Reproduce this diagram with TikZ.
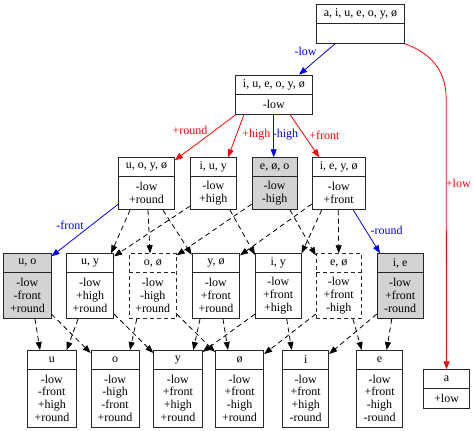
\documentclass[tikz,border=0pt]{standalone}
\usepackage{fontspec}
\setmainfont{Liberation Serif}
\usetikzlibrary{arrows.meta}
\definecolor{boxgrey}{RGB}{211,211,211}
\tikzset{
  recbox/.style={draw=black!85, line width=0.8pt, inner sep=0pt, fill=white},
  greyrec/.style={fill=boxgrey},
  dashrec/.style={dash pattern=on 4pt off 3pt},
  plainrec/.style={},
  rtext/.style={inner sep=0pt, align=center, font=\fontsize{12}{12.7}\selectfont},
  edge/.style={line width=0.8pt, -{Triangle[length=8pt,width=6pt]}},
  dedge/.style={edge, black, dash pattern=on 5pt off 3.5pt},
  redge/.style={edge, red},
  bedge/.style={edge, blue},
  rlab/.style={text=red, inner sep=0pt, font=\fontsize{12}{12.7}\selectfont},
  blab/.style={text=blue, inner sep=0pt, font=\fontsize{12}{12.7}\selectfont}
}
% name, x, y, width, height, header, body, style
\newcommand\recnode[8]{%
  \node[recbox,#8,minimum width=#4pt,minimum height=#5pt,anchor=north west] (#1) at (#2,#3) {};
  \draw[recbox,#8] ([yshift=-19.5pt]#1.north west) -- ([yshift=-19.5pt]#1.north east);
  \node[rtext] (#1h) at ([yshift=-9.75pt]#1.north) {#6};
  \node[rtext] (#1b) at ([yshift=-19.5pt-(#5pt-19.5pt)/2]#1.north) {#7};
}
\begin{document}
\begin{tikzpicture}[x=1pt,y=-1pt]
\useasboundingbox (0,0) rectangle (474,431);
% row 0/1
\recnode{root}{316}{4}{88}{39}{a, i, u, e, o, y, ø}{}{plainrec}
\recnode{nlow}{235}{74.7}{77}{39}{i, u, e, o, y, ø}{-low}{plainrec}
% row 2
\recnode{uoyo}{118.3}{157.3}{55.7}{52}{u, o, y, ø}{-low\\+round}{plainrec}
\recnode{iuy}{190}{157.3}{45.7}{52}{i, u, y}{-low\\+high}{plainrec}
\recnode{eoo}{251.7}{157.3}{45}{52}{e, ø, o}{-low\\-high}{greyrec}
\recnode{ieyo}{311.7}{157.3}{53.3}{52}{i, e, y, ø}{-low\\+front}{plainrec}
% row 3
\recnode{uo}{3.3}{253.3}{47.4}{65}{u, o}{-low\\-front\\+round}{greyrec}
\recnode{uy}{66}{253.3}{47.3}{65}{u, y}{-low\\+high\\+round}{plainrec}
\recnode{oo}{128.7}{253.3}{47.3}{65}{o, ø}{-low\\-high\\+round}{dashrec}
\recnode{yo}{191.7}{253.3}{47.6}{65}{y, ø}{-low\\+front\\+round}{plainrec}
\recnode{iy}{255}{253.3}{45.7}{65}{i, y}{-low\\+front\\+high}{plainrec}
\recnode{eo}{315.7}{253.3}{45.3}{65}{e, ø}{-low\\+front\\-high}{dashrec}
\recnode{ie}{376.7}{253.3}{46}{65}{i, e}{-low\\+front\\-round}{greyrec}
% row 4
\recnode{nu}{27.3}{350}{48.4}{76.7}{u}{-low\\-front\\+high\\+round}{plainrec}
\recnode{no}{90.7}{350}{48}{76.7}{o}{-low\\-high\\-front\\+round}{plainrec}
\recnode{ny}{153.3}{350}{48.4}{76.7}{y}{-low\\+front\\+high\\+round}{plainrec}
\recnode{noe}{215}{350}{48.4}{76.7}{ø}{-low\\+front\\-high\\+round}{plainrec}
\recnode{ni}{282.3}{350}{46}{76.7}{i}{-low\\+front\\+high\\-round}{plainrec}
\recnode{ne}{356}{350}{46.3}{76.7}{e}{-low\\+front\\-high\\-round}{plainrec}
\recnode{na}{423.3}{369.3}{45.7}{39}{a}{+low}{plainrec}

% coloured edges
\draw[bedge] ([xshift=19pt]root.south west) -- ([xshift=64pt]nlow.north west);
\draw[redge] (root.south east) .. controls (428,52) and (446,68) .. (446.15,98) -- (na.north);
\draw[redge] ([xshift=1pt]nlow.south west) -- ([yshift=-3pt]uoyo.north east);
\draw[redge] ([xshift=9pt]nlow.south west) -- ([xshift=38pt]iuy.north west);
\draw[bedge] ([xshift=38.7pt]nlow.south west) -- ([xshift=22pt]eoo.north west);
\draw[redge] ([xshift=55pt]nlow.south west) -- ([xshift=7.5pt]ieyo.north west);
\draw[bedge] ([yshift=6pt]uoyo.south west) -- ([yshift=-3pt]uo.north east);
\draw[bedge] ([xshift=41.6pt]ieyo.south west) -- ([xshift=3.3pt]ie.north west);

% labels
\node[blab] (llow) at (305.5,51.7) {-low};
\node[rlab] (lround) at (190,130) {+round};
\node[rlab] (lhigh) at (256.4,135) {+high};
\node[blab] (lmhigh) at (285.5,135) {-high};
\node[rlab] (lfront) at (324.5,135) {+front};
\node[rlab] (lplow) at (458.3,183.3) {+low};
\node[blab] (lmfront) at (70,225) {-front};
\node[blab] (lmround) at (386.7,230) {-round};

% dashed edges row 2 -> row 3
\draw[dedge] ([xshift=11.7pt]uoyo.south west) -- ([xshift=-3pt]uy.north east);
\draw[dedge] ([xshift=29.7pt]uoyo.south west) -- ([xshift=21.3pt]oo.north west);
\draw[dedge] ([xshift=44.7pt]uoyo.south west) -- ([yshift=-1.5pt]yo.north west);
\draw[dedge] ([yshift=4pt]iuy.south west) -- ([yshift=-3pt]uy.north east);
\draw[dedge] ([xshift=40pt]iuy.south west) -- ([yshift=-1.5pt]iy.north west);
\draw[dedge] ([yshift=6pt]eoo.south west) -- ([yshift=-2pt]oo.north east);
\draw[dedge] ([xshift=38.3pt]eoo.south west) -- ([yshift=-2pt]eo.north west);
\draw[dedge] ([yshift=6pt]ieyo.south west) -- ([yshift=-2pt]yo.north east);
\draw[dedge] ([xshift=10pt]ieyo.south west) -- (iy.north east);
\draw[dedge] ([xshift=26.6pt]ieyo.south west) -- (eo.north);

% dashed edges row 3 -> row 4
\draw[dedge] ([xshift=31.7pt]uo.south west) -- ([xshift=12.7pt]nu.north west);
\draw[dedge] ([yshift=5pt]uo.south east) -- ([yshift=-3pt]no.north west);
\draw[dedge] ([xshift=12pt]uy.south west) -- ([xshift=39.4pt]nu.north west);
\draw[dedge] ([yshift=5pt]uy.south east) -- ([yshift=-3pt]ny.north west);
\draw[dedge] ([xshift=8pt]oo.south west) -- ([xshift=39.3pt]no.north west);
\draw[dedge] ([yshift=5pt]oo.south east) -- ([yshift=-2pt]noe.north west);
\draw[dedge] ([xshift=8.3pt]yo.south west) -- ([xshift=40pt]ny.north west);
\draw[dedge] ([xshift=31.3pt]yo.south west) -- ([xshift=13pt]noe.north west);
\draw[dedge] ([yshift=5pt]iy.south west) -- ([yshift=-2pt]ny.north east);
\draw[dedge] ([xshift=31.7pt]iy.south west) -- ([xshift=9.4pt]ni.north west);
\draw[dedge] ([yshift=5pt]eo.south west) -- ([yshift=-4pt]noe.north east);
\draw[dedge] ([xshift=37.3pt]eo.south west) -- ([xshift=5.7pt]ne.north west);
\draw[dedge] ([yshift=5pt]ie.south west) -- ([yshift=-4pt]ni.north east);
\draw[dedge] ([xshift=15pt]ie.south west) -- ([xshift=30.7pt]ne.north west);
\end{tikzpicture}
\end{document}
